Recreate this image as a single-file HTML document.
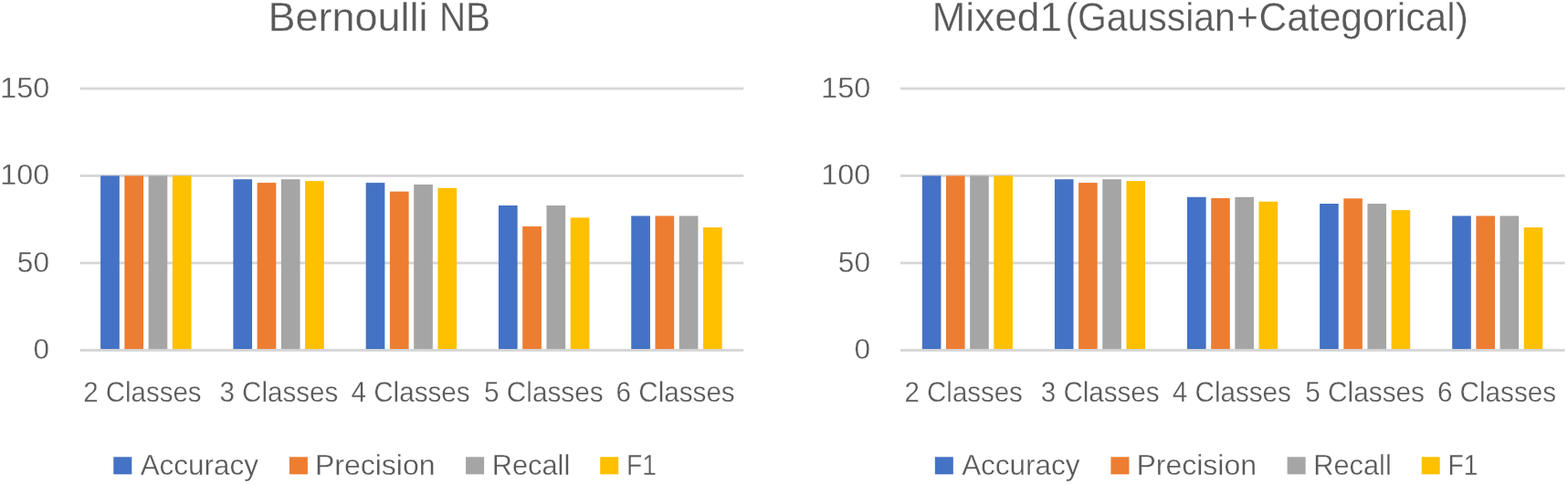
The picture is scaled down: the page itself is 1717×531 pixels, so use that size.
<!DOCTYPE html>
<html><head><meta charset="utf-8"><style>
html,body{margin:0;padding:0;background:#fff;}
body{width:1717px;height:531px;overflow:hidden;}
svg{display:block;}
text{font-family:'Liberation Sans', Arial, sans-serif;fill:#595959;stroke:#fff;stroke-width:0.3px;}
</style></head><body>
<svg width="1717" height="531" viewBox="0 0 1717 531">
<rect width="1717" height="531" fill="#fff"/>
<rect x="87.60" y="95.56" width="726.60" height="2.80" fill="#d6d6d6"/>
<rect x="87.60" y="191.06" width="726.60" height="2.80" fill="#d6d6d6"/>
<rect x="87.60" y="286.56" width="726.60" height="2.80" fill="#d6d6d6"/>
<rect x="110.10" y="192.46" width="20.70" height="191.00" fill="#4472c4"/>
<rect x="136.35" y="192.46" width="20.70" height="191.00" fill="#ed7d31"/>
<rect x="162.60" y="192.46" width="20.70" height="191.00" fill="#a5a5a5"/>
<rect x="188.85" y="192.46" width="20.70" height="191.00" fill="#ffc000"/>
<rect x="255.38" y="196.28" width="20.70" height="187.18" fill="#4472c4"/>
<rect x="281.63" y="200.10" width="20.70" height="183.36" fill="#ed7d31"/>
<rect x="307.88" y="196.28" width="20.70" height="187.18" fill="#a5a5a5"/>
<rect x="334.13" y="198.19" width="20.70" height="185.27" fill="#ffc000"/>
<rect x="400.66" y="200.10" width="20.70" height="183.36" fill="#4472c4"/>
<rect x="426.91" y="209.65" width="20.70" height="173.81" fill="#ed7d31"/>
<rect x="453.16" y="202.01" width="20.70" height="181.45" fill="#a5a5a5"/>
<rect x="479.41" y="205.83" width="20.70" height="177.63" fill="#ffc000"/>
<rect x="545.94" y="224.93" width="20.70" height="158.53" fill="#4472c4"/>
<rect x="572.19" y="247.85" width="20.70" height="135.61" fill="#ed7d31"/>
<rect x="598.44" y="224.93" width="20.70" height="158.53" fill="#a5a5a5"/>
<rect x="624.69" y="238.30" width="20.70" height="145.16" fill="#ffc000"/>
<rect x="691.22" y="236.39" width="20.70" height="147.07" fill="#4472c4"/>
<rect x="717.47" y="236.39" width="20.70" height="147.07" fill="#ed7d31"/>
<rect x="743.72" y="236.39" width="20.70" height="147.07" fill="#a5a5a5"/>
<rect x="769.97" y="249.00" width="20.70" height="134.46" fill="#ffc000"/>
<rect x="87.60" y="382.06" width="726.60" height="2.80" fill="#d6d6d6"/>
<text transform="translate(293.61,34.40) scale(1.0210,1.0000)" font-size="44">Bernoulli</text>
<text transform="translate(480.88,34.40) scale(0.9186,1.0000)" font-size="44">NB</text>
<text transform="translate(0.12,106.83) scale(1.0180,1.0000)" font-size="32">150</text>
<text transform="translate(0.33,202.33) scale(1.0120,1.0000)" font-size="32">100</text>
<text transform="translate(18.83,297.83) scale(0.9890,1.0000)" font-size="32">50</text>
<text transform="translate(36.57,393.33) scale(0.9871,1.0000)" font-size="32">0</text>
<text transform="translate(91.22,439.70) scale(0.9206,1.0000)" font-size="32">2 Classes</text>
<text transform="translate(240.47,439.70) scale(0.9238,1.0000)" font-size="32">3 Classes</text>
<text transform="translate(384.52,439.70) scale(0.9263,1.0000)" font-size="32">4 Classes</text>
<text transform="translate(530.01,439.70) scale(0.9300,1.0000)" font-size="32">5 Classes</text>
<text transform="translate(674.59,439.70) scale(0.9265,1.0000)" font-size="32">6 Classes</text>
<rect x="124.30" y="500.30" width="20.00" height="19.00" fill="#4472c4"/>
<text transform="translate(153.64,519.70) scale(0.9827,1.0000)" font-size="32">Accuracy</text>
<rect x="316.90" y="500.30" width="20.00" height="19.00" fill="#ed7d31"/>
<text transform="translate(344.88,519.70) scale(1.0000,1.0000)" font-size="32">Precision</text>
<rect x="510.10" y="500.30" width="20.00" height="19.00" fill="#a5a5a5"/>
<text transform="translate(538.78,519.70) scale(0.9613,1.0000)" font-size="32">Recall</text>
<rect x="657.20" y="500.30" width="20.00" height="19.00" fill="#ffc000"/>
<text transform="translate(686.09,519.70) scale(0.8807,1.0000)" font-size="32">F1</text>
<rect x="986.00" y="95.56" width="727.60" height="2.80" fill="#d6d6d6"/>
<rect x="986.00" y="191.06" width="727.60" height="2.80" fill="#d6d6d6"/>
<rect x="986.00" y="286.56" width="727.60" height="2.80" fill="#d6d6d6"/>
<rect x="1009.80" y="192.46" width="20.60" height="191.00" fill="#4472c4"/>
<rect x="1035.97" y="192.46" width="20.60" height="191.00" fill="#ed7d31"/>
<rect x="1062.14" y="192.46" width="20.60" height="191.00" fill="#a5a5a5"/>
<rect x="1088.31" y="192.46" width="20.60" height="191.00" fill="#ffc000"/>
<rect x="1154.90" y="196.28" width="20.60" height="187.18" fill="#4472c4"/>
<rect x="1181.07" y="200.10" width="20.60" height="183.36" fill="#ed7d31"/>
<rect x="1207.24" y="196.28" width="20.60" height="187.18" fill="#a5a5a5"/>
<rect x="1233.41" y="198.19" width="20.60" height="185.27" fill="#ffc000"/>
<rect x="1300.00" y="215.76" width="20.60" height="167.70" fill="#4472c4"/>
<rect x="1326.17" y="216.91" width="20.60" height="166.55" fill="#ed7d31"/>
<rect x="1352.34" y="215.76" width="20.60" height="167.70" fill="#a5a5a5"/>
<rect x="1378.51" y="220.73" width="20.60" height="162.73" fill="#ffc000"/>
<rect x="1445.10" y="223.02" width="20.60" height="160.44" fill="#4472c4"/>
<rect x="1471.27" y="217.29" width="20.60" height="166.17" fill="#ed7d31"/>
<rect x="1497.44" y="223.02" width="20.60" height="160.44" fill="#a5a5a5"/>
<rect x="1523.61" y="230.09" width="20.60" height="153.37" fill="#ffc000"/>
<rect x="1590.20" y="236.39" width="20.60" height="147.07" fill="#4472c4"/>
<rect x="1616.37" y="236.39" width="20.60" height="147.07" fill="#ed7d31"/>
<rect x="1642.54" y="236.39" width="20.60" height="147.07" fill="#a5a5a5"/>
<rect x="1668.71" y="249.00" width="20.60" height="134.46" fill="#ffc000"/>
<rect x="986.00" y="382.06" width="727.60" height="2.80" fill="#d6d6d6"/>
<text transform="translate(1020.57,34.40) scale(1.0045,1.0000)" font-size="44">Mixed1</text>
<text transform="translate(1166.47,34.40) scale(0.9290,1.0000)" font-size="44">(Gaussian</text>
<text transform="translate(1354.00,34.40) scale(0.9309,1.0000)" font-size="44">+</text>
<text transform="translate(1378.44,34.40) scale(0.9675,1.0000)" font-size="44">Categorical)</text>
<text transform="translate(899.12,106.83) scale(1.0180,1.0000)" font-size="32">150</text>
<text transform="translate(899.33,202.33) scale(1.0120,1.0000)" font-size="32">100</text>
<text transform="translate(917.83,297.83) scale(0.9890,1.0000)" font-size="32">50</text>
<text transform="translate(935.57,393.33) scale(0.9871,1.0000)" font-size="32">0</text>
<text transform="translate(990.52,439.70) scale(0.9206,1.0000)" font-size="32">2 Classes</text>
<text transform="translate(1139.77,439.70) scale(0.9238,1.0000)" font-size="32">3 Classes</text>
<text transform="translate(1283.82,439.70) scale(0.9263,1.0000)" font-size="32">4 Classes</text>
<text transform="translate(1429.31,439.70) scale(0.9300,1.0000)" font-size="32">5 Classes</text>
<text transform="translate(1573.89,439.70) scale(0.9265,1.0000)" font-size="32">6 Classes</text>
<rect x="1023.80" y="500.30" width="20.00" height="19.00" fill="#4472c4"/>
<text transform="translate(1053.14,519.70) scale(0.9827,1.0000)" font-size="32">Accuracy</text>
<rect x="1216.40" y="500.30" width="20.00" height="19.00" fill="#ed7d31"/>
<text transform="translate(1244.38,519.70) scale(1.0000,1.0000)" font-size="32">Precision</text>
<rect x="1409.60" y="500.30" width="20.00" height="19.00" fill="#a5a5a5"/>
<text transform="translate(1438.28,519.70) scale(0.9613,1.0000)" font-size="32">Recall</text>
<rect x="1556.70" y="500.30" width="20.00" height="19.00" fill="#ffc000"/>
<text transform="translate(1585.59,519.70) scale(0.8807,1.0000)" font-size="32">F1</text>
</svg>
</body></html>
